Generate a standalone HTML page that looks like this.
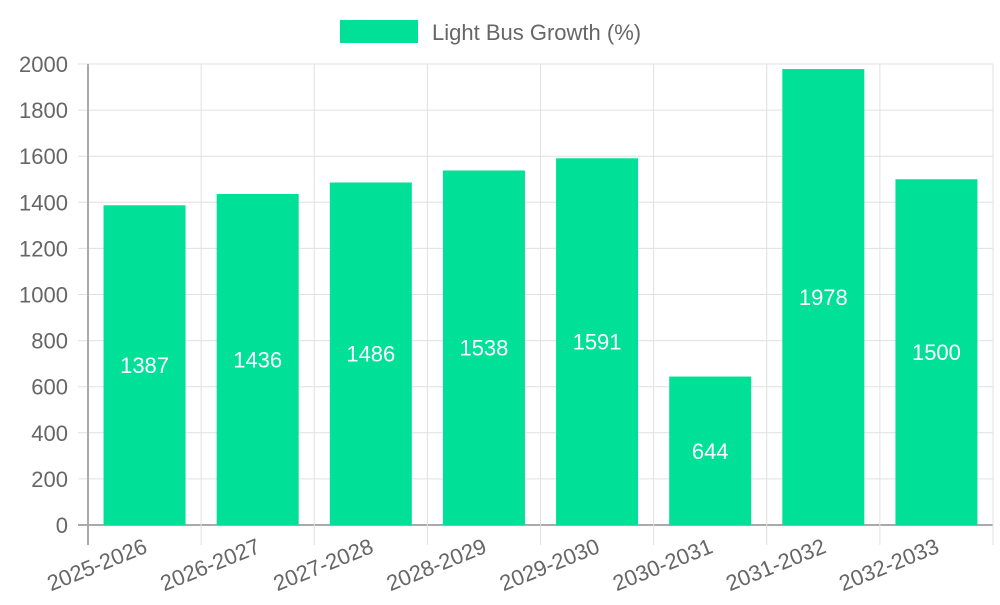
<!DOCTYPE html>
<html><head><meta charset="utf-8"><style>
html,body{margin:0;padding:0;background:#fff;}
svg text{font-family:"Liberation Sans",sans-serif;fill:#666;}
</style></head><body>
<svg id="chart" width="1000" height="600" xmlns="http://www.w3.org/2000/svg">
<g>
<rect x="340" y="20" width="78" height="23" fill="#00e096"/>
<text x="432" y="40" font-size="22">Light Bus Growth (%)</text>
</g>
<g id="grid"></g><g id="bars"></g><g id="labels"></g>
</svg>
<script>
const categories=["2025-2026","2026-2027","2027-2028","2028-2029","2029-2030","2030-2031","2031-2032","2032-2033"];
const values=[1387,1436,1486,1538,1591,644,1978,1500];
const yTicks=[0,200,400,600,800,1000,1200,1400,1600,1800,2000];
const L=88,R=993,T=64,B=525,yMax=2000;
const ns="http://www.w3.org/2000/svg";
const bw=(R-L)/categories.length;
const y=v=>B-(v/yMax)*(B-T);
const x=i=>L+bw*i;
function mk(tag,attrs,parent,txt){const e=document.createElementNS(ns,tag);for(const k in attrs)e.setAttribute(k,attrs[k]);if(txt!==undefined)e.textContent=txt;parent.appendChild(e);return e;}
const grid=document.getElementById('grid'),bars=document.getElementById('bars'),labels=document.getElementById('labels');
yTicks.forEach(t=>{
  const g=mk('line',{x1:78,x2:R,y1:y(t),y2:y(t),stroke:t===0?'#aaa':'#e0e0e0','stroke-width':t===0?2:1},grid);
  
  
  const tx=mk('text',{x:68,y:y(t)+8,'text-anchor':'end','font-size':22},grid,String(t));
  
  
});
for(let i=0;i<=categories.length;i++){
  const l=mk('line',{x1:x(i),x2:x(i),y1:T,y2:545,stroke:i===0?'#aaa':'#e0e0e0','stroke-width':i===0?2:1},grid);
  
  
}
categories.forEach((c,i)=>{
  const cx=x(i)+bw/2;
  const r=mk('rect',{x:cx-41,y:y(values[i]),width:82,height:B-y(values[i]),fill:'#00e096'},bars);
  
  
  const v=mk('text',{x:cx,y:(y(values[i])+B)/2+8,'text-anchor':'middle','font-size':22,style:'fill:#fff'},labels,String(values[i]));
  
  
  const xl=mk('text',{x:cx+4,y:552,'text-anchor':'end','font-size':22,transform:`rotate(-22 ${cx+4} 552)`},labels,c);
  
  
});
</script>
</body></html>
